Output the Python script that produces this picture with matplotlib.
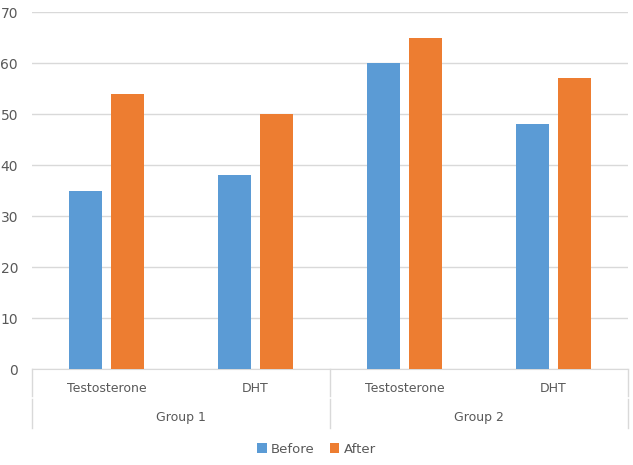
import matplotlib.pyplot as plt
import matplotlib.transforms as mtransforms

groups = ['Group 1', 'Group 2']
hormones = ['Testosterone', 'DHT', 'Testosterone', 'DHT']
before = [35, 38, 60, 48]
after = [54, 50, 65, 57]

blue = '#5B9BD5'
orange = '#ED7D31'
grid_c = '#D9D9D9'
text_c = '#595959'

fig = plt.figure(figsize=(6.33, 4.65), dpi=100)
ax = fig.add_axes([32 / 633, 1 - 369 / 465, 596 / 633, 357 / 465])

x = list(range(len(hormones)))
w = 0.22
off = 0.141
ax.bar([i - off for i in x], before, width=w, color=blue, label='Before', zorder=3)
ax.bar([i + off for i in x], after, width=w, color=orange, label='After', zorder=3)

ax.set_xlim(-0.5, len(hormones) - 0.5)
ax.set_ylim(0, 70)
ax.set_yticks(range(0, 71, 10))
ax.yaxis.grid(True, color=grid_c, linewidth=1)
ax.set_axisbelow(True)
ax.tick_params(axis='y', length=0, pad=10, labelsize=10, labelcolor=text_c)
ax.set_xticks([])
for s in ['top', 'right', 'left']:
    ax.spines[s].set_visible(False)
ax.spines['bottom'].set_color(grid_c)

# multi-level category axis
trans = mtransforms.blended_transform_factory(ax.transData, fig.transFigure)
for i, h in enumerate(hormones):
    ax.text(i, 1 - 388 / 465, h, transform=trans, ha='center', va='center',
            fontsize=9, color=text_c)
for g, name in enumerate(groups):
    ax.text(g * 2 + 0.5, 1 - 417 / 465, name, transform=trans, ha='center', va='center',
            fontsize=9, color=text_c)
for xb in [-0.5, 1.5, 3.5]:
    ax.plot([xb, xb], [1 - 369 / 465, 1 - 396 / 465], transform=trans, color=grid_c,
            linewidth=1, clip_on=False)
    ax.plot([xb, xb], [1 - 399 / 465, 1 - 428 / 465], transform=trans, color=grid_c,
            linewidth=1, clip_on=False)

fig.legend(loc='center', bbox_to_anchor=(0.5, 1 - 449 / 465), ncol=2, frameon=False,
           handlelength=0.7, handleheight=0.7, handletextpad=0.3, columnspacing=1.2,
           fontsize=9.5, labelcolor=text_c)

fig.savefig('out.png', dpi=100)
